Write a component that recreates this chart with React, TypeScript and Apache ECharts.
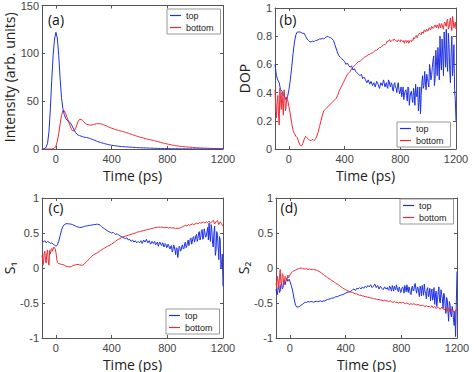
import React, { useEffect, useRef } from "react";
import * as echarts from "echarts";

// time axis (ps)
const T = [
  -100, -90, -80, -70, -60, -50, -40, -30, -20, -10,
  0, 10, 20, 30, 40, 50, 60, 70, 80, 90,
  100, 110, 120, 130, 140, 150, 160, 170, 180, 190,
  200, 210, 220, 230, 240, 250, 260, 270, 280, 290,
  300, 310, 320, 330, 340, 350, 360, 370, 380, 390,
  400, 410, 420, 430, 440, 450, 460, 470, 480, 490,
  500, 510, 520, 530, 540, 550, 560, 570, 580, 590,
  600, 610, 620, 630, 640, 650, 660, 670, 680, 690,
  700, 710, 720, 730, 740, 750, 760, 770, 780, 790,
  800, 810, 820, 830, 840, 850, 860, 870, 880, 890,
  900, 910, 920, 930, 940, 950, 960, 970, 980, 990,
  1000, 1010, 1020, 1030, 1040, 1050, 1060, 1070, 1080, 1090,
  1100, 1110, 1120, 1130, 1140, 1150, 1160, 1170, 1180, 1190,
  1200,
];
// extra sample times in the noisy parts
const T_HEAD = [-95, -85, -75, -65, -55, -45, -35, -25, -15, -5];
const T_TAIL = [
  705, 715, 725, 735, 745, 755, 765, 775, 785, 795,
  805, 815, 825, 835, 845, 855, 865, 875, 885, 895,
  905, 915, 925, 935, 945, 955, 965, 975, 985, 995,
  1005, 1015, 1025, 1035, 1045, 1055, 1065, 1075, 1085, 1095,
  1105, 1115, 1125, 1135, 1145, 1155, 1165, 1175, 1185, 1195,
];

// (a) Intensity
const intensityTop = [
  0, 0, 0.5, 2, 6, 18, 42, 72, 98, 115,
  122, 116, 98, 74, 54, 42, 36, 32, 30, 29,
  28, 26, 23, 20, 17.5, 15.5, 14.5, 14, 13.5, 13,
  12.5, 12.2, 12, 11.7, 11.2, 10.7, 10.2, 9.6, 9, 8.4,
  7.8, 7.3, 6.8, 6.4, 6, 5.6, 5.2, 4.8, 4.5, 4.2,
  3.9, 3.7, 3.5, 3.3, 3.1, 2.9, 2.7, 2.6, 2.5, 2.4,
  2.3, 2.2, 2.1, 2, 1.9, 1.8, 1.7, 1.6, 1.5, 1.4,
  1.3, 1.25, 1.2, 1.15, 1.1, 1.05, 1, 0.95, 0.9, 0.85,
  0.8, 0.75, 0.7, 0.65, 0.6, 0.55, 0.5, 0.5, 0.45, 0.45,
  0.4, 0.4, 0.35, 0.35, 0.3, 0.3, 0.3, 0.25, 0.25, 0.25,
  0.2, 0.2, 0.2, 0.2, 0.15, 0.15, 0.15, 0.15, 0.1, 0.1,
  0.1, 0.1, 0.1, 0.1, 0.1, 0.1, 0.1, 0.05, 0.05, 0.05,
  0.05, 0.05, 0.05, 0.05, 0.05, 0.05, 0.05, 0.05, 0.05, 0.05,
  0.05,
];
const intensityBottom = [
  0, 0, 0, 0, 0, 0, 0, 0, 0.3, 1,
  3, 8, 16, 26, 35, 40, 40, 37, 33, 29,
  25, 21, 19, 19, 21, 25, 29, 31, 31, 30,
  28.5, 27, 26, 25.5, 25, 25, 25.2, 25.6, 26, 26.3,
  26.5, 26.5, 26.3, 26, 25.5, 25, 24.3, 23.6, 23, 22.3,
  21.7, 21.2, 20.7, 20.2, 19.8, 19.4, 19, 18.6, 18.2, 17.8,
  17.4, 17, 16.5, 16, 15.5, 15, 14.5, 14, 13.5, 13,
  12.6, 12.2, 11.8, 11.4, 11, 10.6, 10.2, 9.9, 9.6, 9.3,
  9, 8.6, 8.2, 7.8, 7.4, 7, 6.6, 6.2, 5.8, 5.5,
  5.2, 4.9, 4.6, 4.3, 4, 3.7, 3.5, 3.3, 3.1, 2.9,
  2.7, 2.55, 2.4, 2.25, 2.1, 2, 1.9, 1.8, 1.7, 1.6,
  1.5, 1.4, 1.3, 1.2, 1.1, 1, 0.95, 0.9, 0.85, 0.8,
  0.75, 0.7, 0.65, 0.6, 0.55, 0.5, 0.45, 0.4, 0.35, 0.3,
  0.3,
];

// (b) DOP
const dopTop = [
  0.6, 0.52, 0.49, 0.47, 0.42, 0.41, 0.38, 0.37, 0.35, 0.37,
  0.42, 0.49, 0.58, 0.68, 0.76, 0.81, 0.83, 0.83, 0.83, 0.825,
  0.82, 0.82, 0.8, 0.78, 0.77, 0.76, 0.76, 0.765, 0.76, 0.77,
  0.77, 0.775, 0.78, 0.78, 0.785, 0.78, 0.79, 0.795, 0.8, 0.79,
  0.79, 0.78, 0.77, 0.74, 0.71, 0.68, 0.66, 0.65, 0.64, 0.63,
  0.62, 0.6, 0.61, 0.59, 0.58, 0.59, 0.56, 0.57, 0.55, 0.54,
  0.53, 0.52, 0.53, 0.5, 0.51, 0.49, 0.47, 0.49, 0.46, 0.48,
  0.45, 0.47, 0.44, 0.48, 0.46, 0.43, 0.47, 0.45, 0.49, 0.44,
  0.47, 0.43, 0.48, 0.44, 0.46, 0.41, 0.47, 0.43, 0.45, 0.42,
  0.41, 0.37, 0.44, 0.39, 0.42, 0.34, 0.43, 0.37, 0.41, 0.33,
  0.4, 0.46, 0.37, 0.27, 0.44, 0.38, 0.52, 0.45, 0.48, 0.53,
  0.47, 0.6, 0.49, 0.58, 0.66, 0.5, 0.62, 0.72, 0.49, 0.64,
  0.78, 0.52, 0.7, 0.85, 0.55, 0.74, 0.47, 0.8, 0.6, 0.42,
  0.2,
];
const dopTopTail = [
  0.44, 0.49, 0.45, 0.47, 0.42, 0.46, 0.44, 0.4, 0.47, 0.39,
  0.44, 0.4, 0.35, 0.41, 0.38, 0.44, 0.31, 0.4, 0.35, 0.43,
  0.31, 0.39, 0.44, 0.33, 0.25, 0.47, 0.43, 0.55, 0.42, 0.5,
  0.44, 0.56, 0.52, 0.63, 0.45, 0.7, 0.52, 0.61, 0.8, 0.56,
  0.66, 0.83, 0.58, 0.62, 0.82, 0.56, 0.68, 0.52, 0.74, 0.35,
];
const dopBottom = [
  0.42, 0.22, 0.38, 0.17, 0.35, 0.4, 0.24, 0.36, 0.3, 0.35,
  0.3, 0.25, 0.18, 0.13, 0.11, 0.09, 0.08, 0.05, 0.03, 0.02,
  0.04, 0.07, 0.09, 0.08, 0.07, 0.06, 0.06, 0.07, 0.06, 0.07,
  0.09, 0.12, 0.16, 0.2, 0.24, 0.27, 0.28, 0.29, 0.3, 0.31,
  0.32, 0.33, 0.34, 0.35, 0.36, 0.38, 0.41, 0.43, 0.45, 0.47,
  0.49, 0.51, 0.53, 0.54, 0.55, 0.57, 0.58, 0.59, 0.6, 0.61,
  0.62, 0.62, 0.63, 0.64, 0.65, 0.655, 0.66, 0.67, 0.67, 0.68,
  0.68, 0.69, 0.7, 0.7, 0.71, 0.72, 0.72, 0.73, 0.74, 0.74,
  0.75, 0.76, 0.77, 0.76, 0.77, 0.77, 0.78, 0.77, 0.76, 0.77,
  0.76, 0.77, 0.76, 0.75, 0.77, 0.76, 0.75, 0.77, 0.76, 0.77,
  0.78, 0.8, 0.79, 0.81, 0.82, 0.81, 0.83, 0.84, 0.83, 0.85,
  0.84, 0.86, 0.85, 0.87, 0.86, 0.88, 0.86, 0.87, 0.89, 0.86,
  0.88, 0.85, 0.9, 0.87, 0.92, 0.86, 0.93, 0.84, 0.91, 0.88,
  0.85,
];
const dopBottomHead = [0.3, 0.33, 0.25, 0.43, 0.28, 0.32, 0.42, 0.27, 0.37, 0.33];
const dopBottomTail = [
  0.765, 0.77, 0.775, 0.765, 0.775, 0.78, 0.77, 0.765, 0.775, 0.765,
  0.775, 0.765, 0.77, 0.765, 0.755, 0.77, 0.76, 0.765, 0.775, 0.79,
  0.79, 0.805, 0.8, 0.82, 0.815, 0.83, 0.82, 0.845, 0.84, 0.835,
  0.855, 0.845, 0.87, 0.855, 0.875, 0.865, 0.88, 0.855, 0.875, 0.89,
  0.86, 0.89, 0.88, 0.91, 0.85, 0.9, 0.87, 0.94, 0.86, 0.9,
];

// (c) S1
const s1Top = [
  0.4, 0.37, 0.39, 0.36, 0.38, 0.37, 0.35, 0.36, 0.34, 0.33,
  0.31, 0.33, 0.38, 0.46, 0.54, 0.59, 0.62, 0.63, 0.635, 0.63,
  0.63, 0.625, 0.62, 0.61, 0.6, 0.59, 0.585, 0.58, 0.58, 0.585,
  0.59, 0.6, 0.6, 0.605, 0.61, 0.61, 0.615, 0.62, 0.62, 0.625,
  0.625, 0.62, 0.61, 0.59, 0.57, 0.56, 0.545, 0.53, 0.52, 0.51,
  0.5, 0.51, 0.49, 0.48, 0.49, 0.47, 0.46, 0.45, 0.44, 0.43,
  0.42, 0.43, 0.4, 0.41, 0.38, 0.4, 0.37, 0.39, 0.36, 0.38,
  0.36, 0.39, 0.35, 0.4, 0.37, 0.41, 0.36, 0.39, 0.34, 0.38,
  0.35, 0.38, 0.33, 0.37, 0.34, 0.36, 0.32, 0.35, 0.31, 0.34,
  0.3, 0.33, 0.27, 0.32, 0.25, 0.31, 0.19, 0.28, 0.22, 0.3,
  0.26, 0.33, 0.28, 0.37, 0.31, 0.4, 0.35, 0.43, 0.38, 0.45,
  0.4, 0.48, 0.42, 0.52, 0.44, 0.55, 0.43, 0.5, 0.46, 0.58,
  0.64, 0.38, 0.55, 0.3, 0.6, 0.25, 0.48, 0.12, 0.4, 0.05,
  -0.26,
];
const s1TopTail = [
  0.37, 0.33, 0.36, 0.31, 0.37, 0.33, 0.36, 0.3, 0.35, 0.29,
  0.34, 0.28, 0.31, 0.23, 0.33, 0.26, 0.29, 0.15, 0.31, 0.24,
  0.32, 0.27, 0.35, 0.29, 0.36, 0.32, 0.42, 0.34, 0.44, 0.37,
  0.46, 0.38, 0.5, 0.4, 0.53, 0.41, 0.56, 0.44, 0.52, 0.4,
  0.45, 0.62, 0.35, 0.5, 0.18, 0.52, 0.3, 0.45, 0, 0.2,
];
const s1Bottom = [
  0.18, 0.05, 0.24, 0.07, 0.26, 0.04, 0.2, 0.28, 0.27, 0.29,
  0.22, 0.08, 0.06, 0.06, 0.05, 0.05, 0.04, 0.03, 0.02, 0.02,
  0.015, 0.02, 0.03, 0.04, 0.045, 0.05, 0.05, 0.045, 0.04, 0.04,
  0.05, 0.07, 0.09, 0.11, 0.13, 0.15, 0.17, 0.19, 0.2, 0.21,
  0.22, 0.235, 0.25, 0.26, 0.275, 0.285, 0.3, 0.31, 0.32, 0.33,
  0.34, 0.355, 0.37, 0.385, 0.4, 0.41, 0.42, 0.435, 0.44, 0.45,
  0.455, 0.46, 0.47, 0.475, 0.48, 0.49, 0.495, 0.5, 0.51, 0.515,
  0.52, 0.525, 0.53, 0.535, 0.54, 0.545, 0.55, 0.555, 0.56, 0.565,
  0.57, 0.575, 0.58, 0.58, 0.585, 0.58, 0.585, 0.58, 0.575, 0.58,
  0.58, 0.57, 0.58, 0.57, 0.575, 0.57, 0.56, 0.57, 0.565, 0.57,
  0.58, 0.59, 0.6, 0.61, 0.6, 0.62, 0.61, 0.62, 0.63, 0.62,
  0.63, 0.64, 0.63, 0.65, 0.64, 0.65, 0.66, 0.64, 0.66, 0.65,
  0.67, 0.64, 0.66, 0.68, 0.63, 0.66, 0.68, 0.62, 0.66, 0.63,
  0.6,
];
const s1BottomHead = [0.1, 0.2, 0.12, 0.22, 0.1, 0.25, 0.26, 0.24, 0.3, 0.27];

// (d) S2
const s2Top = [
  -0.3, -0.38, -0.26, -0.33, -0.22, -0.28, -0.18, -0.2, -0.16, -0.17,
  -0.19, -0.25, -0.33, -0.44, -0.53, -0.56, -0.555, -0.55, -0.53, -0.52,
  -0.5, -0.49, -0.49, -0.48, -0.485, -0.48, -0.48, -0.49, -0.48, -0.475,
  -0.48, -0.475, -0.47, -0.48, -0.47, -0.47, -0.46, -0.45, -0.445, -0.44,
  -0.43, -0.43, -0.42, -0.41, -0.41, -0.4, -0.39, -0.385, -0.38, -0.37,
  -0.36, -0.35, -0.345, -0.34, -0.33, -0.31, -0.3, -0.32, -0.29, -0.3,
  -0.28, -0.3, -0.27, -0.29, -0.26, -0.28, -0.25, -0.27, -0.24, -0.28,
  -0.26, -0.23, -0.28, -0.25, -0.3, -0.26, -0.29, -0.31, -0.27, -0.3,
  -0.28, -0.32, -0.27, -0.33, -0.29, -0.26, -0.31, -0.28, -0.34, -0.3,
  -0.33, -0.27, -0.36, -0.29, -0.24, -0.35, -0.3, -0.38, -0.26, -0.32,
  -0.22, -0.36, -0.28, -0.41, -0.3, -0.25, -0.39, -0.33, -0.44, -0.28,
  -0.37, -0.47, -0.3, -0.42, -0.52, -0.33, -0.45, -0.27, -0.5, -0.38,
  -0.58, -0.4, -0.65, -0.45, -0.76, -0.52, -0.7, -0.6, -0.82, -0.98,
  -0.05,
];
const s2TopHead = [-0.36, -0.28, -0.35, -0.24, -0.3, -0.2, -0.24, -0.15, -0.19, -0.16];
const s2TopTail = [
  -0.31, -0.26, -0.3, -0.25, -0.33, -0.29, -0.24, -0.32, -0.27, -0.35,
  -0.29, -0.31, -0.25, -0.34, -0.3, -0.27, -0.37, -0.28, -0.33, -0.24,
  -0.31, -0.27, -0.35, -0.26, -0.4, -0.32, -0.23, -0.36, -0.3, -0.41,
  -0.29, -0.35, -0.46, -0.28, -0.4, -0.55, -0.34, -0.48, -0.31, -0.44,
  -0.36, -0.54, -0.42, -0.62, -0.48, -0.66, -0.55, -0.74, -0.62, -0.5,
];
const s2Bottom = [
  -0.22, -0.12, -0.3, -0.02, -0.25, -0.1, -0.2, -0.13, -0.16, -0.14,
  -0.1, -0.07, -0.05, -0.04, -0.03, -0.02, -0.01, -0.005, 0, -0.01,
  -0.01, -0.015, -0.01, -0.02, -0.015, -0.02, -0.02, -0.02, -0.025, -0.03,
  -0.04, -0.05, -0.06, -0.08, -0.09, -0.11, -0.12, -0.14, -0.15, -0.16,
  -0.18, -0.19, -0.2, -0.22, -0.23, -0.24, -0.26, -0.27, -0.29, -0.3,
  -0.31, -0.32, -0.33, -0.34, -0.345, -0.35, -0.36, -0.37, -0.37, -0.38,
  -0.39, -0.39, -0.4, -0.4, -0.41, -0.41, -0.42, -0.42, -0.43, -0.43,
  -0.44, -0.44, -0.445, -0.45, -0.45, -0.46, -0.46, -0.47, -0.46, -0.47,
  -0.47, -0.48, -0.47, -0.48, -0.49, -0.48, -0.49, -0.49, -0.5, -0.49,
  -0.5, -0.49, -0.5, -0.51, -0.5, -0.51, -0.52, -0.51, -0.52, -0.51,
  -0.52, -0.53, -0.52, -0.53, -0.54, -0.53, -0.54, -0.55, -0.54, -0.55,
  -0.55, -0.56, -0.54, -0.57, -0.55, -0.58, -0.56, -0.57, -0.59, -0.56,
  -0.58, -0.6, -0.56, -0.62, -0.57, -0.63, -0.59, -0.61, -0.64, -0.6,
  -0.6,
];
const s2BottomHead = [-0.28, -0.18, -0.14, -0.2, -0.08, -0.24, -0.12, -0.18, -0.1, -0.12];

const xTicks = [0, 400, 800, 1200];
const panelLetters = ["(a)", "(b)", "(c)", "(d)"];
const yNames = ["Intensity (arb. units)", "DOP", "S\u2081", "S\u2082"];
const xName = "Time (ps)";
const legendNames = ["top", "bottom"];

const BLUE = "#1e30e6";
const RED = "#ec2a36";
const AXIS = "#555";
const LABEL = "#444";
const TITLE_FONT = "Open Sans";
const TICK_FONT = "Liberation Sans";

const grids = [
  { left: 42, top: 5, width: 181, height: 144 },
  { left: 275, top: 8, width: 181, height: 141 },
  { left: 42, top: 198, width: 181, height: 141 },
  { left: 276, top: 198, width: 181, height: 141 },
];
const yRanges = [
  { min: 0, max: 150, interval: 50 },
  { min: 0, max: 1, interval: 0.2 },
  { min: -1, max: 1, interval: 0.5 },
  { min: -1, max: 1, interval: 0.5 },
];
const yNameGaps = [22, 24, 25, 22];
const legendPos = [
  { left: 167, top: 9 },
  { left: 397, top: 122 },
  { left: 166, top: 309 },
  { left: 400, top: 199 },
];
const letterPos = [
  [56, 19],
  [288, 19],
  [56, 207],
  [289, 207],
];

function pairs(ys: number[], headT?: number[], head?: number[], tailT?: number[], tail?: number[]) {
  const out: number[][] = T.map((t, i) => [t, ys[i]]);
  if (headT && head) headT.forEach((t, i) => out.push([t, head[i]]));
  if (tailT && tail) tailT.forEach((t, i) => out.push([t, tail[i]]));
  out.sort((a, b) => a[0] - b[0]);
  return out;
}

export default function App() {
  const ref = useRef<HTMLDivElement>(null);
  useEffect(() => {
    if (!ref.current) return;
    const chart = echarts.init(ref.current, undefined, { renderer: "svg" });
    const seriesData = [
      [pairs(intensityTop), pairs(intensityBottom)],
      [pairs(dopTop, undefined, undefined, T_TAIL, dopTopTail), pairs(dopBottom, T_HEAD, dopBottomHead, T_TAIL, dopBottomTail)],
      [pairs(s1Top, undefined, undefined, T_TAIL, s1TopTail), pairs(s1Bottom, T_HEAD, s1BottomHead)],
      [pairs(s2Top, T_HEAD, s2TopHead, T_TAIL, s2TopTail), pairs(s2Bottom, T_HEAD, s2BottomHead)],
    ];
    const fmt = (v: number) => String(v);
    const xAxes: any[] = [];
    const yAxes: any[] = [];
    const series: any[] = [];
    for (let g = 0; g < 4; g++) {
      xAxes.push({
        type: "value",
        gridIndex: g,
        min: -100,
        max: 1200,
        position: "bottom",
        name: xName,
        nameLocation: "middle",
        nameGap: 19,
        nameTextStyle: { fontFamily: TITLE_FONT, fontSize: 14, color: "#222" },
        axisLine: { show: true, onZero: false, lineStyle: { color: AXIS, width: 1 } },
        axisTick: { show: true, inside: true, length: 3, customValues: xTicks, lineStyle: { color: AXIS } },
        axisLabel: { show: true, customValues: xTicks, formatter: fmt, margin: 4, fontSize: 11, fontFamily: TICK_FONT, color: LABEL },
        splitLine: { show: false },
      });
      yAxes.push({
        type: "value",
        gridIndex: g,
        min: yRanges[g].min,
        max: yRanges[g].max,
        interval: yRanges[g].interval,
        position: "left",
        name: yNames[g],
        nameLocation: "middle",
        nameGap: yNameGaps[g],
        nameTextStyle: { fontFamily: TITLE_FONT, fontSize: 14, color: "#222" },
        axisLine: { show: true, onZero: false, lineStyle: { color: AXIS, width: 1 } },
        axisTick: { show: true, inside: true, length: 3, lineStyle: { color: AXIS } },
        axisLabel: { show: true, formatter: fmt, margin: 3, fontSize: 11, fontFamily: TICK_FONT, color: LABEL },
        splitLine: { show: false },
      });
      series.push({
        type: "line",
        name: legendNames[0],
        xAxisIndex: g,
        yAxisIndex: g,
        data: seriesData[g][0],
        showSymbol: false,
        symbol: "none",
        lineStyle: { color: BLUE, width: 1 },
        itemStyle: { color: BLUE },
        z: g === 0 ? 3 : 2,
      });
      series.push({
        type: "line",
        name: legendNames[1],
        xAxisIndex: g,
        yAxisIndex: g,
        data: seriesData[g][1],
        showSymbol: false,
        symbol: "none",
        lineStyle: { color: RED, width: 1 },
        itemStyle: { color: RED },
        z: g === 0 ? 2 : 3,
      });
    }
    for (let g = 0; g < 4; g++) {
      xAxes.push({
        type: "value",
        gridIndex: g,
        min: -100,
        max: 1200,
        position: "top",
        axisLine: { show: true, onZero: false, lineStyle: { color: AXIS, width: 1 } },
        axisTick: { show: true, inside: true, length: 3, customValues: xTicks, lineStyle: { color: AXIS } },
        axisLabel: { show: false },
        splitLine: { show: false },
      });
      yAxes.push({
        type: "value",
        gridIndex: g,
        min: yRanges[g].min,
        max: yRanges[g].max,
        interval: yRanges[g].interval,
        position: "right",
        axisLine: { show: true, onZero: false, lineStyle: { color: AXIS, width: 1 } },
        axisTick: { show: true, inside: true, length: 3, lineStyle: { color: AXIS } },
        axisLabel: { show: false },
        splitLine: { show: false },
      });
    }
    const legends = legendPos.map((p) => ({
      show: true,
      data: legendNames,
      orient: "vertical",
      left: p.left,
      top: p.top,
      icon: "rect",
      itemWidth: 11,
      itemHeight: 1.2,
      itemGap: 1,
      padding: [1, 7, 1, 3],
      borderColor: "#999",
      borderWidth: 1,
      backgroundColor: "#fff",
      selectedMode: false,
      textStyle: { fontSize: 9, fontFamily: TICK_FONT, color: "#222", lineHeight: 11, padding: [0, 0, 0, 0] },
    }));
    chart.setOption({
      animation: false,
      backgroundColor: "#fff",
      grid: grids.map((g) => ({ ...g, containLabel: false })),
      xAxis: xAxes,
      yAxis: yAxes,
      legend: legends,
      series,
      graphic: panelLetters.map((txt, i) => ({
        type: "text",
        x: letterPos[i][0],
        y: letterPos[i][1],
        z: 100,
        style: {
          text: txt,
          fontFamily: TITLE_FONT,
          fontSize: 14,
          fill: "#111",
          textAlign: "center",
          textVerticalAlign: "middle",
        },
      })),
    });
    return () => chart.dispose();
  }, []);
  return (
    <div
      ref={ref}
      style={{ position: "absolute", left: 0, top: 0, width: 474, height: 372 }}
    />
  );
}
